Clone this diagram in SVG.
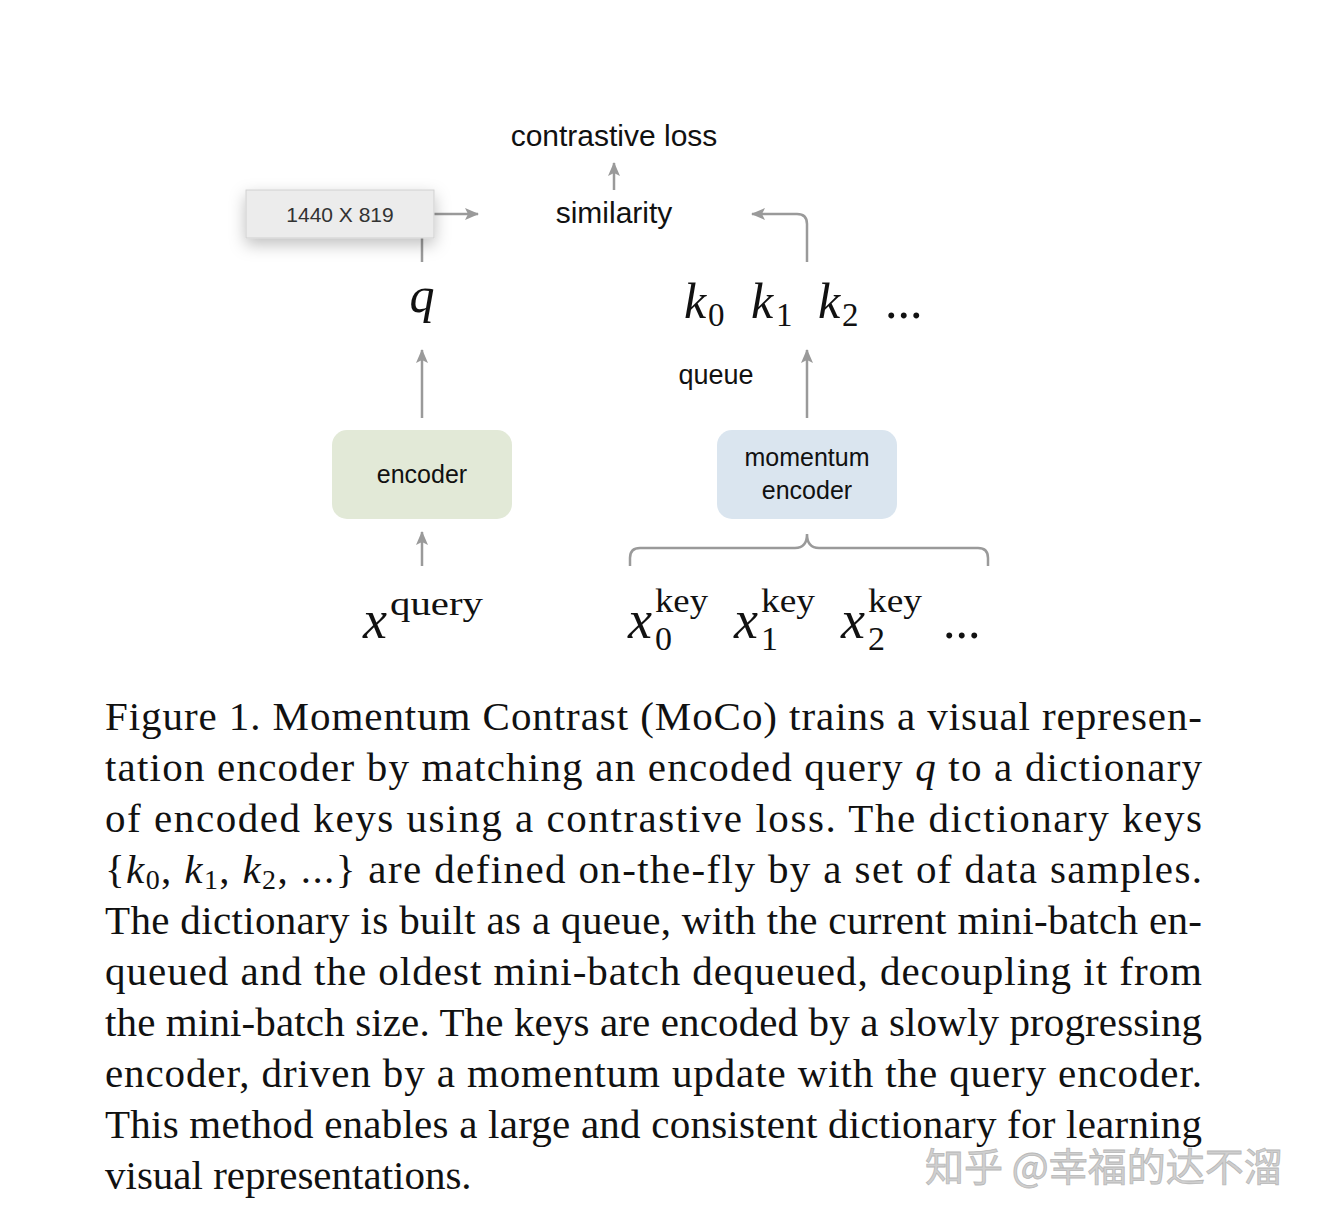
<svg xmlns="http://www.w3.org/2000/svg" width="1318" height="1220" viewBox="0 0 1318 1220">
<defs>
<marker id="ah" viewBox="0 0 14 14" refX="13" refY="7" markerWidth="14" markerHeight="14" markerUnits="userSpaceOnUse" orient="auto"><path d="M0,1 L14,7 L0,13 L3,7 z" fill="#9a9a9a"/></marker>
<filter id="sh" x="-30%" y="-50%" width="160%" height="220%"><feDropShadow dx="0" dy="6" stdDeviation="8" flood-color="#000" flood-opacity="0.25"/></filter>
<style>
.sans{font-family:"Liberation Sans",Arial,sans-serif;fill:#111}
.math{font-family:"Liberation Serif","Times New Roman",serif;fill:#111}
.it{font-style:italic}
.cap{font-family:"Liberation Serif","Times New Roman",serif;font-size:41px;fill:#111}
.conn{fill:none;stroke:#9a9a9a;stroke-width:2.5}
</style>
</defs>
<rect width="1318" height="1220" fill="#fff"/>

<g id="connectors">
<path class="conn" d="M614,190 L614,163" marker-end="url(#ah)"/>
<path class="conn" d="M422,262 L422,224 Q422,214 432,214 L478,214" marker-end="url(#ah)"/>
<path class="conn" d="M807,262 L807,224 Q807,214 797,214 L752,214" marker-end="url(#ah)"/>
<path class="conn" d="M422,418 L422,350" marker-end="url(#ah)"/>
<path class="conn" d="M807,418 L807,350" marker-end="url(#ah)"/>
<path class="conn" d="M422,566 L422,532" marker-end="url(#ah)"/>
<path class="conn" d="M630,566 L630,558 Q630,548 640,548 L795,548 Q807,548 807,534 Q807,548 819,548 L978,548 Q988,548 988,558 L988,566"/>
</g>

<g id="loss"><text class="sans" x="614" y="146" font-size="30" text-anchor="middle">contrastive loss</text></g>
<g id="similarity"><text class="sans" x="614" y="223" font-size="30" text-anchor="middle">similarity</text></g>

<g id="q"><text class="math it" x="422" y="312" font-size="50" text-anchor="middle">q</text></g>

<g id="keys">
<text class="math it" x="684" y="318" font-size="50">k</text>
<text class="math" x="708" y="326" font-size="33">0</text>
<text class="math it" x="751" y="318" font-size="50">k</text>
<text class="math" x="776" y="326" font-size="33">1</text>
<text class="math it" x="818" y="318" font-size="50">k</text>
<text class="math" x="842" y="326" font-size="33">2</text>
<text class="math" x="885" y="318" font-size="50">...</text>
</g>

<g id="queue"><text class="sans" x="716" y="384" font-size="27" text-anchor="middle">queue</text></g>

<g id="encoder">
<rect x="332" y="430" width="180" height="89" rx="15" fill="#e2e9d7"/>
<text class="sans" x="422" y="483" font-size="25" text-anchor="middle">encoder</text>
</g>

<g id="momentum-encoder">
<rect x="717" y="430" width="180" height="89" rx="15" fill="#dae5ef"/>
<text class="sans" x="807" y="466" font-size="25" text-anchor="middle">momentum</text>
<text class="sans" x="807" y="499" font-size="25" text-anchor="middle">encoder</text>
</g>

<g id="xquery">
<text class="math it" x="363" y="638" font-size="54">x</text>
<text class="math" x="390" y="615" font-size="34" textLength="93" lengthAdjust="spacingAndGlyphs">query</text>
</g>

<g id="xkeys">
<text class="math it" x="628" y="638" font-size="54">x</text>
<text class="math" x="655" y="650" font-size="34">0</text>
<text class="math" x="655" y="612" font-size="34" textLength="53" lengthAdjust="spacingAndGlyphs">key</text>
<text class="math it" x="734" y="638" font-size="54">x</text>
<text class="math" x="761" y="650" font-size="34">1</text>
<text class="math" x="761" y="612" font-size="34" textLength="54" lengthAdjust="spacingAndGlyphs">key</text>
<text class="math it" x="841" y="638" font-size="54">x</text>
<text class="math" x="868" y="650" font-size="34">2</text>
<text class="math" x="868" y="612" font-size="34" textLength="54" lengthAdjust="spacingAndGlyphs">key</text>
<text class="math" x="943" y="638" font-size="50">...</text>
</g>

<g id="size-tooltip">
<rect x="246" y="190" width="188" height="48" fill="#ececec" stroke="#d0d0d0" stroke-width="1" filter="url(#sh)"/>
<text class="sans" x="340" y="222" font-size="21" text-anchor="middle" style="fill:#333">1440 X 819</text>
</g>

<g id="caption">
<text class="cap" x="105" y="730" textLength="1097" lengthAdjust="spacing">Figure 1. Momentum Contrast (MoCo) trains a visual represen-</text>
<text class="cap" x="105" y="781" textLength="1097" lengthAdjust="spacing">tation encoder by matching an encoded query <tspan font-style="italic">q</tspan> to a dictionary</text>
<text class="cap" x="105" y="832" textLength="1097" lengthAdjust="spacing">of encoded keys using a contrastive loss.  The dictionary keys</text>
<text class="cap" x="105" y="883" textLength="1097" lengthAdjust="spacing">{<tspan font-style="italic">k</tspan><tspan font-size="28" dy="6">0</tspan><tspan dy="-6">, </tspan><tspan font-style="italic">k</tspan><tspan font-size="28" dy="6">1</tspan><tspan dy="-6">, </tspan><tspan font-style="italic">k</tspan><tspan font-size="28" dy="6">2</tspan><tspan dy="-6">, ...} are defined on-the-fly by a set of data samples.</tspan></text>
<text class="cap" x="105" y="934" textLength="1097" lengthAdjust="spacing">The dictionary is built as a queue, with the current mini-batch en-</text>
<text class="cap" x="105" y="985" textLength="1097" lengthAdjust="spacing">queued and the oldest mini-batch dequeued, decoupling it from</text>
<text class="cap" x="105" y="1036" textLength="1097" lengthAdjust="spacing">the mini-batch size. The keys are encoded by a slowly progressing</text>
<text class="cap" x="105" y="1087" textLength="1097" lengthAdjust="spacing">encoder, driven by a momentum update with the query encoder.</text>
<text class="cap" x="105" y="1138" textLength="1097" lengthAdjust="spacing">This method enables a large and consistent dictionary for learning</text>
<text class="cap" x="105" y="1189">visual representations.</text>
</g>

<g id="watermark">
<text x="925" y="1181" font-size="39" font-family="'Noto Sans CJK SC',sans-serif" fill="#cfcfcf" stroke="#b8b8b8" stroke-width="0.8">知乎 @幸福的达不溜</text>
</g>
</svg>
